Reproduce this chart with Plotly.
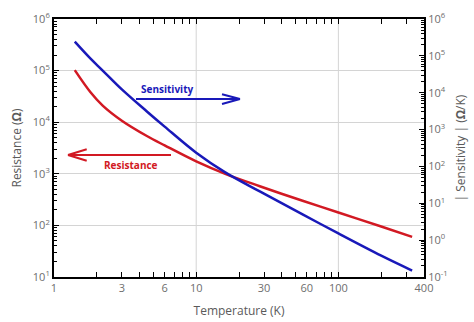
import plotly.graph_objects as go

# Data
temperature_K = [1.4, 1.8, 2.2, 3, 4.5, 6, 10, 16, 28, 56, 100, 200, 330]
resistance_ohm = [102000, 38500, 21000, 10700, 5400, 3550, 1740, 1000, 575, 300, 178, 95, 60]
sensitivity_ohm_per_K = [242000, 85000, 40000, 12300, 3100, 1200, 235, 69, 21, 5.0, 1.52, 0.38, 0.15]

x_tick_vals = [1, 3, 6, 10, 30, 60, 100, 400]
x_tick_text = ["1", "3", "6", "10", "30", "60", "100", "400"]
x_minor_vals = [2, 4, 5, 7, 8, 9, 20, 40, 50, 70, 80, 90, 200, 300]
x_grid_vals = [10, 100]

y_left_exps = [1, 2, 3, 4, 5, 6]
y_right_exps = [-1, 0, 1, 2, 3, 4, 5, 6]

RED = "rgb(210,25,35)"
BLUE = "rgb(25,25,185)"
GRAY = "#6e6e6e"
FONT = "Open Sans"

def minor_log(e0, e1):
    return [m * 10 ** e for e in range(e0, e1) for m in range(2, 10)]

fig = go.Figure()
fig.add_trace(go.Scatter(x=temperature_K, y=resistance_ohm, mode="lines",
                         line=dict(color=RED, width=2.5, shape="spline"),
                         yaxis="y", showlegend=False))
fig.add_trace(go.Scatter(x=temperature_K, y=sensitivity_ohm_per_K, mode="lines",
                         line=dict(color=BLUE, width=2.5, shape="spline"),
                         yaxis="y2", showlegend=False))

shapes = []
for gx in x_grid_vals:
    shapes.append(dict(type="line", xref="x", yref="paper", x0=gx, x1=gx, y0=0, y1=1,
                       line=dict(color="#d4d4d4", width=1), layer="below"))

def seg(x0, y0, x1, y1, color):
    return dict(type="line", xref="paper", yref="paper", x0=x0, y0=y0, x1=x1, y1=y1,
                line=dict(color=color, width=2))

# Sensitivity arrow (pointing right)
shapes += [seg(0.2216, 0.690, 0.5027, 0.690, BLUE),
           seg(0.4541, 0.7081, 0.5027, 0.690, BLUE),
           seg(0.4541, 0.6705, 0.5027, 0.690, BLUE)]
# Resistance arrow (pointing left)
shapes += [seg(0.0378, 0.4729, 0.3162, 0.4729, RED),
           seg(0.0884, 0.4950, 0.0378, 0.4729, RED),
           seg(0.0884, 0.4508, 0.0378, 0.4729, RED)]

annotations = [
    dict(text="<b>Sensitivity</b>", xref="paper", yref="paper", x=0.305, y=0.729,
         xanchor="center", yanchor="middle",
         showarrow=False, font=dict(color=BLUE, size=10, family=FONT)),
    dict(text="<b>Resistance</b>", xref="paper", yref="paper", x=0.208, y=0.434,
         xanchor="center", yanchor="middle",
         showarrow=False, font=dict(color=RED, size=10, family=FONT)),
]

fig.update_layout(
    width=474, height=322,
    margin=dict(l=54, r=50, t=19, b=45),
    paper_bgcolor="white", plot_bgcolor="white",
    font=dict(family=FONT, color=GRAY, size=11),
    shapes=shapes, annotations=annotations,
    xaxis=dict(type="log", range=[0, 2.60206], automargin=False,
               tickmode="array", tickvals=x_tick_vals, ticktext=x_tick_text,
               ticks="inside", ticklen=5, tickwidth=1, tickcolor="black",
               minor=dict(tickvals=x_minor_vals, ticks="inside", ticklen=3, tickcolor="black"),
               showgrid=False, showline=True, linecolor="black", linewidth=2, mirror="allticks",
               tickfont=dict(size=11, color=GRAY),
               title=dict(text="Temperature (K)", font=dict(size=12, color="#5a5a5a"), standoff=12),
               zeroline=False),
    yaxis=dict(type="log", range=[1, 6], automargin=False,
               tickmode="array", tickvals=[10 ** e for e in y_left_exps],
               ticktext=["10<sup>%d</sup>" % e for e in y_left_exps],
               ticks="inside", ticklen=5, tickcolor="black",
               minor=dict(tickvals=minor_log(1, 6), ticks="inside", ticklen=3, tickcolor="black"),
               showgrid=True, gridcolor="#d4d4d4", gridwidth=1,
               showline=True, linecolor="black", linewidth=2, mirror=False,
               tickfont=dict(size=11, color=GRAY),
               title=dict(text="Resistance (<b>Ω</b>)", font=dict(size=12, color="#5a5a5a"), standoff=9),
               zeroline=False),
    yaxis2=dict(type="log", range=[-1, 6], overlaying="y", side="right", automargin=False,
                tickmode="array", tickvals=[10 ** e for e in y_right_exps],
                ticktext=["10<sup>%d</sup>" % e for e in y_right_exps],
                ticks="inside", ticklen=5, tickcolor="black",
                minor=dict(tickvals=minor_log(-1, 6), ticks="inside", ticklen=3, tickcolor="black"),
                showgrid=False, showline=True, linecolor="black", linewidth=2,
                tickfont=dict(size=11, color=GRAY),
                title=dict(text="| Sensitivity | (<b>Ω</b>/K)", font=dict(size=12, color="#5a5a5a"), standoff=10),
                zeroline=False),
)

fig.write_html("out.html")
